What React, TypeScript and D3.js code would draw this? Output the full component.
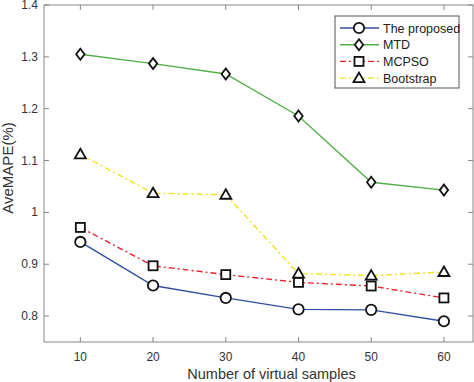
import React from 'react';
import * as d3 from 'd3';

const xValues = [10, 20, 30, 40, 50, 60];
const proposed = [0.943, 0.859, 0.835, 0.813, 0.812, 0.790];
const mtd = [1.305, 1.287, 1.267, 1.186, 1.058, 1.043];
const mcpso = [0.971, 0.897, 0.880, 0.865, 0.858, 0.835];
const bootstrap = [1.112, 1.037, 1.034, 0.882, 0.878, 0.885];
const seriesNames = ['The proposed', 'MTD', 'MCPSO', 'Bootstrap'];
const xTicks = [10, 20, 30, 40, 50, 60];
const yTicks = [0.8, 0.9, 1.0, 1.1, 1.2, 1.3, 1.4];
const xLabel = 'Number of virtual samples';
const yLabel = 'AveMAPE(%)';

const W = 474, H = 382;
const left = 44, right = 473, top = 5, bottom = 342;

const x = d3.scaleLinear().domain([5, 64]).range([left, right]);
const y = d3.scaleLinear().domain([0.75, 1.4]).range([bottom, top]);

type Marker = 'circle' | 'diamond' | 'square' | 'triangle';
const series: { name: string; values: number[]; color: string; dash?: string; marker: Marker }[] = [
  { name: seriesNames[0], values: proposed, color: '#2f4fa0', marker: 'circle' },
  { name: seriesNames[1], values: mtd, color: '#52b048', marker: 'diamond' },
  { name: seriesNames[2], values: mcpso, color: '#e8232e', dash: '6,3,2,3', marker: 'square' },
  { name: seriesNames[3], values: bootstrap, color: '#eee31c', dash: '6,3,2,3', marker: 'triangle' },
];

function MarkerShape({ type, cx, cy }: { type: Marker; cx: number; cy: number }) {
  const common = { fill: '#fff', stroke: '#111', strokeWidth: 1.8 };
  if (type === 'circle') return <circle cx={cx} cy={cy} r={5.2} {...common} />;
  if (type === 'square') return <rect x={cx - 4.5} y={cy - 4.5} width={9} height={9} {...common} />;
  if (type === 'diamond')
    return <path d={`M${cx},${cy - 5.5}L${cx + 4.2},${cy}L${cx},${cy + 5.5}L${cx - 4.2},${cy}Z`} {...common} />;
  return <path d={`M${cx},${cy - 5.5}L${cx + 5.5},${cy + 4}L${cx - 5.5},${cy + 4}Z`} {...common} />;
}

export default function App() {
  const line = d3
    .line<number>()
    .x((_, i) => x(xValues[i]))
    .y((d) => y(d));
  const axisColor = '#888';
  const textColor = '#333';
  const font = 'Arial, "Liberation Sans", Helvetica, sans-serif';
  const tickLen = 5;
  const legX = 335, legY = 16, legW = 124, legH = 72, rowH = 16.7;
  return (
    <svg width={W} height={H} style={{ position: 'absolute', left: 0, top: 0, background: '#fff' }} fontFamily={font}>
      <rect x={0} y={0} width={W} height={H} fill="#fff" />
      {/* ticks */}
      {xTicks.map((t) => (
        <g key={'x' + t}>
          <line x1={x(t)} x2={x(t)} y1={bottom} y2={bottom - tickLen} stroke={axisColor} />
          <line x1={x(t)} x2={x(t)} y1={top} y2={top + tickLen} stroke={axisColor} />
          <text x={x(t)} y={bottom + 19} textAnchor="middle" fontSize={12} fill={textColor}>
            {t}
          </text>
        </g>
      ))}
      {yTicks.map((t) => (
        <g key={'y' + t}>
          <line x1={left} x2={left + tickLen} y1={y(t)} y2={y(t)} stroke={axisColor} />
          <line x1={right} x2={right - tickLen} y1={y(t)} y2={y(t)} stroke={axisColor} />
          <text x={left - 6} y={y(t) + 4} textAnchor="end" fontSize={12} fill={textColor}>
            {t === 1 ? '1' : t.toFixed(1)}
          </text>
        </g>
      ))}
      <rect x={left} y={top} width={right - left} height={bottom - top} fill="none" stroke={axisColor} strokeWidth={1} />
      {/* series */}
      {series.map((s) => (
        <g key={s.name}>
          <path d={line(s.values) || ''} fill="none" stroke={s.color} strokeWidth={1.4} strokeDasharray={s.dash} />
        </g>
      ))}
      {series.map((s) => (
        <g key={s.name + 'm'}>
          {s.values.map((v, i) => (
            <MarkerShape key={i} type={s.marker} cx={x(xValues[i])} cy={y(v)} />
          ))}
        </g>
      ))}
      {/* labels */}
      <text x={(left + right) / 2 + 13} y={379} textAnchor="middle" fontSize={14.5} fill={textColor}>
        {xLabel}
      </text>
      <text
        transform={`translate(13, ${168}) rotate(-90)`}
        textAnchor="middle"
        fontSize={15}
        fill={textColor}
      >
        {yLabel}
      </text>
      {/* legend */}
      <rect x={legX} y={legY} width={legW} height={legH} fill="#fff" stroke="#555" strokeWidth={1} />
      {series.map((s, i) => {
        const cy = legY + 12 + i * rowH;
        return (
          <g key={s.name + 'l'}>
            <line x1={legX + 5} x2={legX + 44} y1={cy} y2={cy} stroke={s.color} strokeWidth={1.4} strokeDasharray={s.dash} />
            <MarkerShape type={s.marker} cx={legX + 24} cy={cy} />
            <text x={legX + 48} y={cy + 4.5} fontSize={12.5} fill="#222">
              {s.name}
            </text>
          </g>
        );
      })}
    </svg>
  );
}
